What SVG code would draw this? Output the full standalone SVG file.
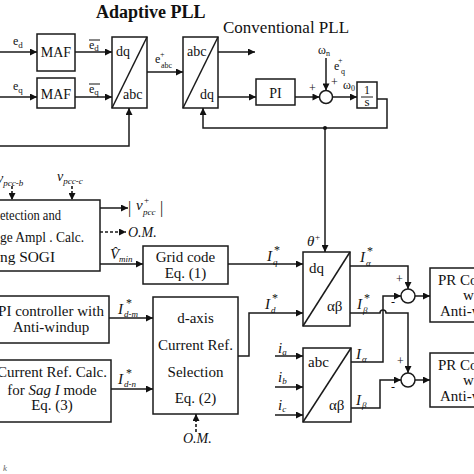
<svg xmlns="http://www.w3.org/2000/svg" width="474" height="474" viewBox="0 0 474 474">
<defs>
<marker id="ah" viewBox="0 0 10 10" refX="10" refY="5" markerWidth="8" markerHeight="7" orient="auto" markerUnits="userSpaceOnUse"><path d="M0,0 L10,5 L0,10 z" fill="#111"/></marker>
<style>
.ln{fill:none;stroke:#1a1a1a;stroke-width:1.5}
.ds{fill:none;stroke:#1a1a1a;stroke-width:1.6;stroke-dasharray:3,2}
.bx{fill:#fff;stroke:#1a1a1a;stroke-width:1.5}
.t{font-family:"Liberation Serif","Times New Roman",serif;font-size:15px;fill:#111}
.tm{font-family:"Liberation Serif","Times New Roman",serif;font-size:15px;fill:#111;text-anchor:middle}
.i{font-style:italic}
.sub{font-family:"Liberation Serif","Times New Roman",serif;font-size:9px;fill:#111;font-style:italic}
.sm{font-family:"Liberation Serif","Times New Roman",serif;font-size:12px;fill:#111}
</style>
</defs>
<rect width="474" height="474" fill="#fff"/>

<text x="96" y="18" style="font-family:'Liberation Serif',serif;font-size:18px;font-weight:bold;fill:#111">Adaptive PLL</text>
<text x="223" y="33" style="font-family:'Liberation Serif',serif;font-size:17px;fill:#111">Conventional PLL</text>

<g id="maf1"><rect class="bx" x="37" y="34" width="38" height="37"/><text class="tm" x="56" y="57" style="font-size:14px">MAF</text></g>
<g id="maf2"><rect class="bx" x="37" y="78" width="38" height="30"/><text class="tm" x="56" y="99" style="font-size:14px">MAF</text></g>
<g id="dq2abc"><rect class="bx" x="112" y="37" width="35" height="71"/><line class="ln" x1="112" y1="108" x2="147" y2="37"/><text class="t" x="116" y="56" style="font-size:14px">dq</text><text class="t" x="123" y="99" style="font-size:14px">abc</text></g>
<g id="abc2dq"><rect class="bx" x="183" y="37" width="35" height="71"/><line class="ln" x1="183" y1="108" x2="218" y2="37"/><text class="t" x="187" y="56" style="font-size:14px">abc</text><text class="t" x="200" y="99" style="font-size:14px">dq</text></g>
<g id="pi"><rect class="bx" x="256" y="79" width="39" height="26"/><text class="tm" x="275.5" y="98" style="font-size:14px">PI</text></g>
<g id="sum0"><circle class="bx" cx="326" cy="97" r="6.5"/></g>
<g id="integ"><rect class="bx" x="357" y="82" width="20" height="26"/><text class="tm" x="367" y="94" style="font-size:12px">1</text><line class="ln" x1="361" y1="97" x2="373" y2="97" style="stroke-width:1"/><text class="tm" x="367" y="106" style="font-size:13px">s</text></g>

<g id="sogi"><rect class="bx" x="-5" y="200" width="105" height="71"/>
<text class="t" x="0" y="220" style="font-size:14px" textLength="61" lengthAdjust="spacingAndGlyphs">etection and</text>
<text class="t" x="0" y="242" style="font-size:14px" textLength="84" lengthAdjust="spacingAndGlyphs">ge Ampl . Calc.</text>
<text class="t" x="0" y="262" style="font-size:14px" textLength="55" lengthAdjust="spacingAndGlyphs">ng SOGI</text></g>
<g id="gridcode"><rect class="bx" x="143" y="246" width="85" height="38"/><text class="tm" x="185.5" y="262">Grid code</text><text class="tm" x="185.5" y="278">Eq. (1)</text></g>
<g id="picontroller"><rect class="bx" x="-5" y="296" width="114" height="47"/><text class="tm" x="51" y="316">PI controller with</text><text class="tm" x="51" y="332">Anti-windup</text></g>
<g id="curref"><rect class="bx" x="-5" y="360" width="116" height="62"/><text class="tm" x="52" y="377">Current Ref. Calc.</text><text class="tm" x="52" y="395">for <tspan class="i">Sag I</tspan> mode</text><text class="tm" x="52" y="410">Eq. (3)</text></g>
<g id="daxis"><rect class="bx" x="153" y="297" width="85" height="117"/><text class="tm" x="195.5" y="323">d-axis</text><text class="tm" x="195.5" y="350">Current Ref.</text><text class="tm" x="195.5" y="377">Selection</text><text class="tm" x="195.5" y="403">Eq. (2)</text></g>
<g id="dq2ab"><rect class="bx" x="303" y="252" width="47" height="74"/><line class="ln" x1="303" y1="326" x2="350" y2="252"/><text class="t" x="309" y="273">dq</text><text class="t" x="327" y="311">αβ</text></g>
<g id="abc2ab"><rect class="bx" x="303" y="348" width="48" height="74"/><line class="ln" x1="303" y1="422" x2="351" y2="348"/><text class="t" x="308" y="367">abc</text><text class="t" x="329" y="410">αβ</text></g>
<g id="sum1"><circle class="bx" cx="408" cy="296" r="7"/></g>
<g id="sum2"><circle class="bx" cx="408" cy="380" r="7"/></g>
<g id="pr1"><rect class="bx" x="430" y="268" width="60" height="54"/><text class="t" x="438" y="285">PR Co</text><text class="t" x="463" y="300">w</text><text class="t" x="440" y="316">Anti-w</text></g>
<g id="pr2"><rect class="bx" x="430" y="353" width="60" height="54"/><text class="t" x="438" y="370">PR Co</text><text class="t" x="463" y="385">w</text><text class="t" x="440" y="401">Anti-w</text></g>

<g id="connectors">
<path class="ln" d="M0,52 H37" marker-end="url(#ah)"/>
<path class="ln" d="M0,97 H37" marker-end="url(#ah)"/>
<path class="ln" d="M75,52 H112" marker-end="url(#ah)"/>
<path class="ln" d="M75,97 H112" marker-end="url(#ah)"/>
<path class="ln" d="M0,146 H129 V108" marker-end="url(#ah)"/>
<path class="ln" d="M147,72 H183" marker-end="url(#ah)"/>
<path class="ln" d="M218,52 H255" marker-end="url(#ah)"/>
<path class="ln" d="M218,97 H256" marker-end="url(#ah)"/>
<path class="ln" d="M295,97 H319.5" marker-end="url(#ah)"/>
<path class="ln" d="M326,58 V90.5" marker-end="url(#ah)"/>
<path class="ln" d="M332.5,97 H357" marker-end="url(#ah)"/>
<path class="ln" d="M377,99 H387 V128 H203 V108" marker-end="url(#ah)"/>
<circle cx="325" cy="128" r="2" fill="#111"/>
<path class="ln" d="M325,128 V252" marker-end="url(#ah)"/>
<path class="ds" d="M12,186 V200" marker-end="url(#ah)"/>
<path class="ds" d="M72,186 V200" marker-end="url(#ah)"/>
<path class="ln" d="M100,208 H128" marker-end="url(#ah)"/>
<path class="ds" d="M100,232 H126" marker-end="url(#ah)"/>
<path class="ln" d="M100,264 H143" marker-end="url(#ah)"/>
<path class="ln" d="M228,264 H303" marker-end="url(#ah)"/>
<path class="ln" d="M238,356 H249 V313 H303" marker-end="url(#ah)"/>
<path class="ln" d="M109,318 H153" marker-end="url(#ah)"/>
<path class="ln" d="M111,389 H153" marker-end="url(#ah)"/>
<path class="ds" d="M196,432 V414" marker-end="url(#ah)"/>
<path class="ln" d="M350,266 H408 V289" marker-end="url(#ah)"/>
<path class="ln" d="M350,313 H380 A3,3 0 0 1 386,313 H408 V373" marker-end="url(#ah)"/>
<path class="ln" d="M351,362 H383 V296 H401" marker-end="url(#ah)"/>
<path class="ln" d="M351,408 H380 V380 H401" marker-end="url(#ah)"/>
<path class="ln" d="M415,296 H430" marker-end="url(#ah)"/>
<path class="ln" d="M415,380 H430" marker-end="url(#ah)"/>
<path class="ln" d="M275,356 H303" marker-end="url(#ah)"/>
<path class="ln" d="M275,387 H303" marker-end="url(#ah)"/>
<path class="ln" d="M275,415 H303" marker-end="url(#ah)"/>
</g>

<g id="labels">
<text class="sm" x="13" y="45">e<tspan font-size="9" dy="3">d</tspan></text>
<text class="sm" x="13" y="90">e<tspan font-size="9" dy="3">q</tspan></text>
<text class="sm" x="89" y="49">e<tspan font-size="9" dy="2">d</tspan></text>
<line x1="89" y1="40" x2="100" y2="40" stroke="#111" stroke-width="1"/>
<text class="sm" x="89" y="93">e<tspan font-size="9" dy="2">q</tspan></text>
<line x1="89" y1="84" x2="100" y2="84" stroke="#111" stroke-width="1"/>
<text class="sm" x="155" y="63">e</text><text x="160" y="57" style="font-family:'Liberation Serif',serif;font-size:8px;fill:#111">+</text><text x="161" y="68" style="font-family:'Liberation Serif',serif;font-size:8px;fill:#111">abc</text>
<text class="sm" x="318" y="54">ω<tspan font-size="8" dy="2">n</tspan></text>
<text class="sm" x="334" y="70">e</text><text x="338" y="63" style="font-family:'Liberation Serif',serif;font-size:8px;fill:#111">+</text><text x="341" y="74" style="font-family:'Liberation Serif',serif;font-size:8px;fill:#111">q</text>
<text class="sm" x="309" y="92">+</text>
<text class="sm" x="331" y="86">+</text>
<text class="sm" x="343" y="89">ω<tspan font-size="8" dy="2">0</tspan></text>

<text class="t i" x="-3" y="183" style="font-size:14px">v<tspan class="sub" dy="3">pcc-b</tspan></text>
<text class="t i" x="57" y="181" style="font-size:14px">v<tspan class="sub" dy="3">pcc-c</tspan></text>
<text class="t" x="128" y="213" style="font-size:16px">|</text>
<text class="t i" x="136" y="210">v</text><text class="sub" x="144" y="203" style="font-style:normal">+</text><text class="sub" x="143" y="215">pcc</text>
<text class="t" x="160" y="213" style="font-size:16px">|</text>
<text class="t i" x="128" y="237" style="font-size:14px">O.M.</text>
<text class="t i" x="110" y="259">V̂</text><text class="sub" x="119" y="262">min</text>
<text class="t i" x="267" y="261">I</text><text class="sub" x="273" y="265">q</text><text class="sm" x="274" y="254">*</text>
<text class="t i" x="307" y="246">θ</text><text class="sub" x="315" y="240" style="font-style:normal">+</text>
<text class="t i" x="360" y="262">I</text><text class="sub" x="366" y="266">α</text><text class="sm" x="367" y="255">*</text>
<text class="t i" x="265" y="309">I</text><text class="sub" x="271" y="313">d</text><text class="sm" x="272" y="302">*</text>
<text class="t i" x="357" y="309">I</text><text class="sub" x="363" y="313">β</text><text class="sm" x="364" y="302">*</text>
<text class="t i" x="356" y="359">I</text><text class="sub" x="362" y="362">α</text>
<text class="t i" x="356" y="405">I</text><text class="sub" x="362" y="408">β</text>
<text class="t i" x="118" y="314">I</text><text class="sub" x="124" y="317">d-m</text><text class="sm" x="126" y="307">*</text>
<text class="t i" x="118" y="384">I</text><text class="sub" x="124" y="387">d-n</text><text class="sm" x="126" y="377">*</text>
<text class="t i" x="183" y="443" style="font-size:14px">O.M.</text>
<text class="t i" x="278" y="353">i<tspan class="sub" dy="2">a</tspan></text>
<text class="t i" x="278" y="382">i<tspan class="sub" dy="2">b</tspan></text>
<text class="t i" x="278" y="410">i<tspan class="sub" dy="2">c</tspan></text>
<text class="sm" x="396" y="283">+</text>
<text class="sm" x="391" y="306">-</text>
<text class="sm" x="397" y="365">+</text>
<text class="sm" x="391" y="391">-</text>
<text class="t i" x="3" y="471" style="font-size:9px;fill:#666">k</text>
</g>
</svg>
